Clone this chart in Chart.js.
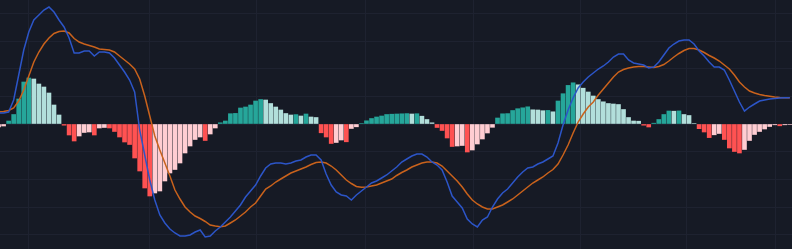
<!DOCTYPE html>
<html><head><meta charset="utf-8">
<style>html,body{margin:0;padding:0;background:#161a25;overflow:hidden}#wrap{width:792px;height:249px}</style>
<script src="https://cdn.jsdelivr.net/npm/chart.js@4"></script>
</head><body><div id="wrap"><canvas id="c" width="792" height="249"></canvas></div>
<script>
// bar index of the first value in every series
const FIRST_INDEX = -1;
// MACD histogram (one value per bar)
const histogram = [
 -3,-2,3,9.5,25,42,46,45,40,37,31,19,9,
 -1.2,-11,-17,-12,-8.5,-8,-11,-4,-3.5,-4,-7.5,-13,-18,-20.5,-34,-47,-64,-72,-69,-67,-57,-49,-45.5,-39,-29,-22,-15.5,-13,-16.5,-10,-4,
 1.2,3,10.3,10.6,16,17,19,23,24.5,24,20.5,17,14,10.5,9,9.4,8,10,7,6.5,
 -8.8,-13,-19.5,-18.5,-16,-17.8,-4.5,-2.8,
 0.5,3.2,5.5,7,8,9.5,9.8,10,10.2,10.4,10,10.3,7.8,4.5,1.2,
 -3.5,-6.5,-14,-22.5,-22,-21.5,-28,-26,-20,-15,-9,-3.3,
 6,10.2,10.4,13.5,15.3,16.2,17.2,14.2,14,13.3,13.6,12.2,23,30.3,38.6,41.2,39.2,35.8,32,28,24.5,22.2,20.5,20,19.5,14.5,6.5,3,2.8,
 -1.2,-3,
 0.8,4.5,9.5,13,12.8,13.1,9.5,8.5,0.5,
 -4.7,-8,-13.6,-10.8,-9.5,-15.5,-24,-27.5,-29,-25.5,-16.5,-10.5,-7.5,-5,-2.5,-0.8,-1.8,-0.8,-0.5
];
// MACD line
const macdLine = [
 11,11,12,24,49,74,92,104,109,114,117,112,104,97,86,71,71,73,73,68,72,72,71,66,59,52,44,32,-6,-31,
 -56,-76,-91,-99,-105,-109,-112,-112,-111,-108,-106,-113,-112,-107,-103,-98,-93,-87,-81,-73,-67,-61,-52,-44,-40,-39,-39,-40,-39,-37,
 -36,-33,-31,-31,-36,-50,-61,-68,-71,-72,-76,-71,-67,-63,-59,-57,-54,-51,-47,-43,-38,-35,-32,-30,-30,-33,-38,-41,-46,-58,
 -72,-78,-84,-95,-100,-103,-96,-93,-83,-75,-69,-65,-59,-53,-48,-44,-43,-40,-38,-35,-32,-19,-1,14,26,36,42,47,51,55,
 58,62,67,70,70,64,61,60,59,56,57,62,69,76,80,83,84,84,80,73,68,62,57,57,54,44,33,22,13,17,
 20,23,24,25,25.5,26,26.3,26.3
];
// Signal line
const signalLine = [
 12,12.5,13.5,16,23,34,48,62,72,80,86,90.5,92.5,93,91,85.5,82,80,78.5,77,75,74.5,74,72,68,64,60,55,45,28,
 8,-12,-26,-39,-52,-66,-75,-83,-88,-92,-94.5,-97.5,-101,-102,-102.7,-102,-99,-96,-92,-88,-83,-79,-72,-65,-62,-58,-55,-52,-49,-47,
 -45,-43,-40.5,-38.5,-38,-39,-42,-46,-51,-56,-59.5,-62.5,-63.3,-63,-62,-61,-59,-57,-55,-51.5,-48.5,-46,-43,-41,-39,-38,-38,-39,-42,-47,
 -52,-57,-63,-70,-76,-80,-83,-85,-85,-83,-81,-78,-75,-71,-67,-63,-59,-56,-53,-49,-45.5,-40,-31,-21,-9,2,10,17,22,29,
 35,41,47,52,54.5,56,57,57.5,57.5,57,56.5,57.5,59.5,63,67,70.5,73.5,75.5,75.5,74,71.5,68.5,66,63,59,55,49,42,37,33,
 31,29.5,28.5,27.7,27,26.5,26.3,26.3
];
// time grid marks (bar index of each vertical grid line)
const timeTicks = [16.9, 41, 59.4, 84.2, 102.3, 126.5, 144.3];
// value grid marks
const valueTicks = [-110.7, -83, -55.3, -27.7, 0, 27.7, 55.3, 83, 110.7];

const X_MIN = -0.714, X_MAX = 156.43, Y_MIN = -125, Y_MAX = 124;
const UP_STRONG = '#26a69a', UP_WEAK = '#b2dfdb', DN_STRONG = '#ff5252', DN_WEAK = '#ffcdd2';
const GRID = '#1e2230';

const xs = histogram.map((_, i) => FIRST_INDEX + i);
const histColors = histogram.map((v, i) => {
  const p = i > 0 ? histogram[i - 1] : v;
  if (v >= 0) return v >= p ? UP_STRONG : UP_WEAK;
  return v < p ? DN_STRONG : DN_WEAK;
});

new Chart(document.getElementById('c'), {
  type: 'bar',
  data: {
    datasets: [
      { type: 'line', data: macdLine.map((v, i) => ({x: xs[i], y: v})), borderColor: '#2c55c8', borderWidth: 1.5, pointRadius: 0, tension: 0, order: 0 },
      { type: 'line', data: signalLine.map((v, i) => ({x: xs[i], y: v})), borderColor: '#c9621c', borderWidth: 1.5, pointRadius: 0, tension: 0, order: 1 },
      { type: 'bar', data: histogram.map((v, i) => ({x: xs[i], y: v})), backgroundColor: histColors, borderWidth: 0, barThickness: 4, order: 2 }
    ]
  },
  options: {
    responsive: false, devicePixelRatio: 1, animation: false,
    layout: { padding: 0 },
    plugins: { legend: { display: false }, tooltip: { enabled: false } },
    scales: {
      x: { type: 'linear', min: X_MIN, max: X_MAX, offset: false,
           grid: { color: GRID, drawTicks: false }, border: { display: false }, ticks: { display: false },
           afterBuildTicks: s => { s.ticks = timeTicks.map(v => ({value: v})); } },
      y: { type: 'linear', min: Y_MIN, max: Y_MAX,
           grid: { color: GRID, drawTicks: false }, border: { display: false }, ticks: { display: false },
           afterBuildTicks: s => { s.ticks = valueTicks.map(v => ({value: v})); } }
    }
  }
});
</script></body></html>
